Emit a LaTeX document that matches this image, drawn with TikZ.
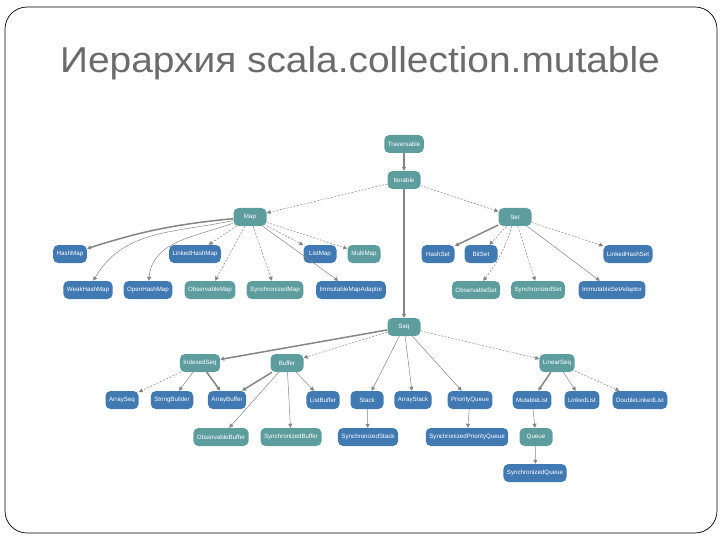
\documentclass[tikz,border=0pt]{standalone}
\usepackage{fontspec}
\setmainfont{Liberation Sans}
\usepackage{tikz}
\usetikzlibrary{positioning,arrows.meta}
\definecolor{sctrait}{HTML}{5E9D9E}
\definecolor{scclass}{HTML}{4179B2}
\definecolor{scedge}{HTML}{858585}
\definecolor{sctitle}{HTML}{6B6B6B}
\tikzset{
  box/.style    ={rounded corners=5pt, minimum width=33pt, minimum height=18pt,
                  inner xsep=3.5pt, inner ysep=0pt, text=white,
                  font=\fontsize{6.2}{7}\selectfont},
  trait/.style  ={box, fill=sctrait},
  klass/.style  ={box, fill=scclass},
  rel/.style    ={-{Triangle[length=4pt,width=4pt]}, draw=scedge, line width=0.5pt},
  defimpl/.style={rel, line width=1.5pt},
  implby/.style ={rel, dash pattern=on 2pt off 1.5pt},
}

\begin{document}
\begin{tikzpicture}[x=1pt,y=-1pt]
  \useasboundingbox (0,0) rectangle (720,540);
  \draw[line width=0.7pt, rounded corners=22pt] (5,7) rectangle (717,533);
  \node[anchor=base, text=sctitle, xscale=1.08, font=\fontsize{36}{40}\selectfont] (title) at (360,73)
    {Иерархия scala.collection.mutable};
  % traits
  \foreach \n/\x/\y/\t in {trav/404/144/Traversable, iter/404/180/Iterable,
      map/250/217/Map, set/515/217/Set, mmap/364/254/MultiMap,
      omap/210/290/ObservableMap, smap/275/290/SynchronizedMap,
      oset/476/290/ObservableSet, sset/538/290/SynchronizedSet,
      seq/404/327/Seq, iseq/200/363/IndexedSeq, buf/287/363/Buffer,
      lseq/557/363/LinearSeq, obuf/221/437/ObservableBuffer,
      sbuf/291/437/SynchronizedBuffer, queue/536/437/Queue}
    \node[trait] (\n) at (\x,\y) {\t};
  % classes
  \foreach \n/\x/\y/\t in {hmap/70/254/HashMap, lhmap/195/254/LinkedHashMap,
      lmap/320/254/ListMap, hset/438/254/HashSet, bset/481/254/BitSet,
      lhset/628/254/LinkedHashSet, whmap/88/290/WeakHashMap,
      ohmap/148/290/OpenHashMap, imap/351/290/ImmutableMapAdaptor,
      iset/612/290/ImmutableSetAdaptor, aseq/122/400/ArraySeq,
      sb/172/400/StringBuilder, abuf/227/400/ArrayBuffer,
      lbuf/323/400/ListBuffer, stack/367/400/Stack, astack/413/400/ArrayStack,
      pq/470/400/PriorityQueue, mlist/532/400/MutableList,
      llist/582/400/LinkedList, dllist/640/400/DoubleLinkedList,
      sstack/368/437/SynchronizedStack, spq/467/437/SynchronizedPriorityQueue,
      squeue/535/473/SynchronizedQueue}
    \node[klass] (\n) at (\x,\y) {\t};
  % edges
  \foreach \a/\b in {trav/iter, iter/seq, set/hset, seq/iseq, iseq/abuf,
      buf/abuf, lseq/mlist}
    \draw[defimpl] (\a) -- (\b);
  \foreach \a/\b in {iter/map, iter/set, map/lhmap, map/omap, map/smap,
      map/lmap, map/mmap, set/bset, set/sset, set/lhset, seq/buf, seq/lseq,
      iseq/aseq, lseq/dllist}
    \draw[implby] (\a) -- (\b);
  \foreach \a/\b in {map/imap, set/iset, seq/stack, seq/astack, seq/pq,
      iseq/sb, buf/lbuf, buf/obuf, buf/sbuf, stack/sstack, pq/spq,
      lseq/llist, mlist/queue, queue/squeue}
    \draw[rel] (\a) -- (\b);
  \draw[defimpl] (map) to[bend right=6] (hmap);
  \draw[rel] (map) to[out=192, in=60] (whmap);
  \draw[rel] (map) to[out=200, in=85] (ohmap);
  \draw[implby] (set) to[bend left=10] (oset);
\end{tikzpicture}
\end{document}
